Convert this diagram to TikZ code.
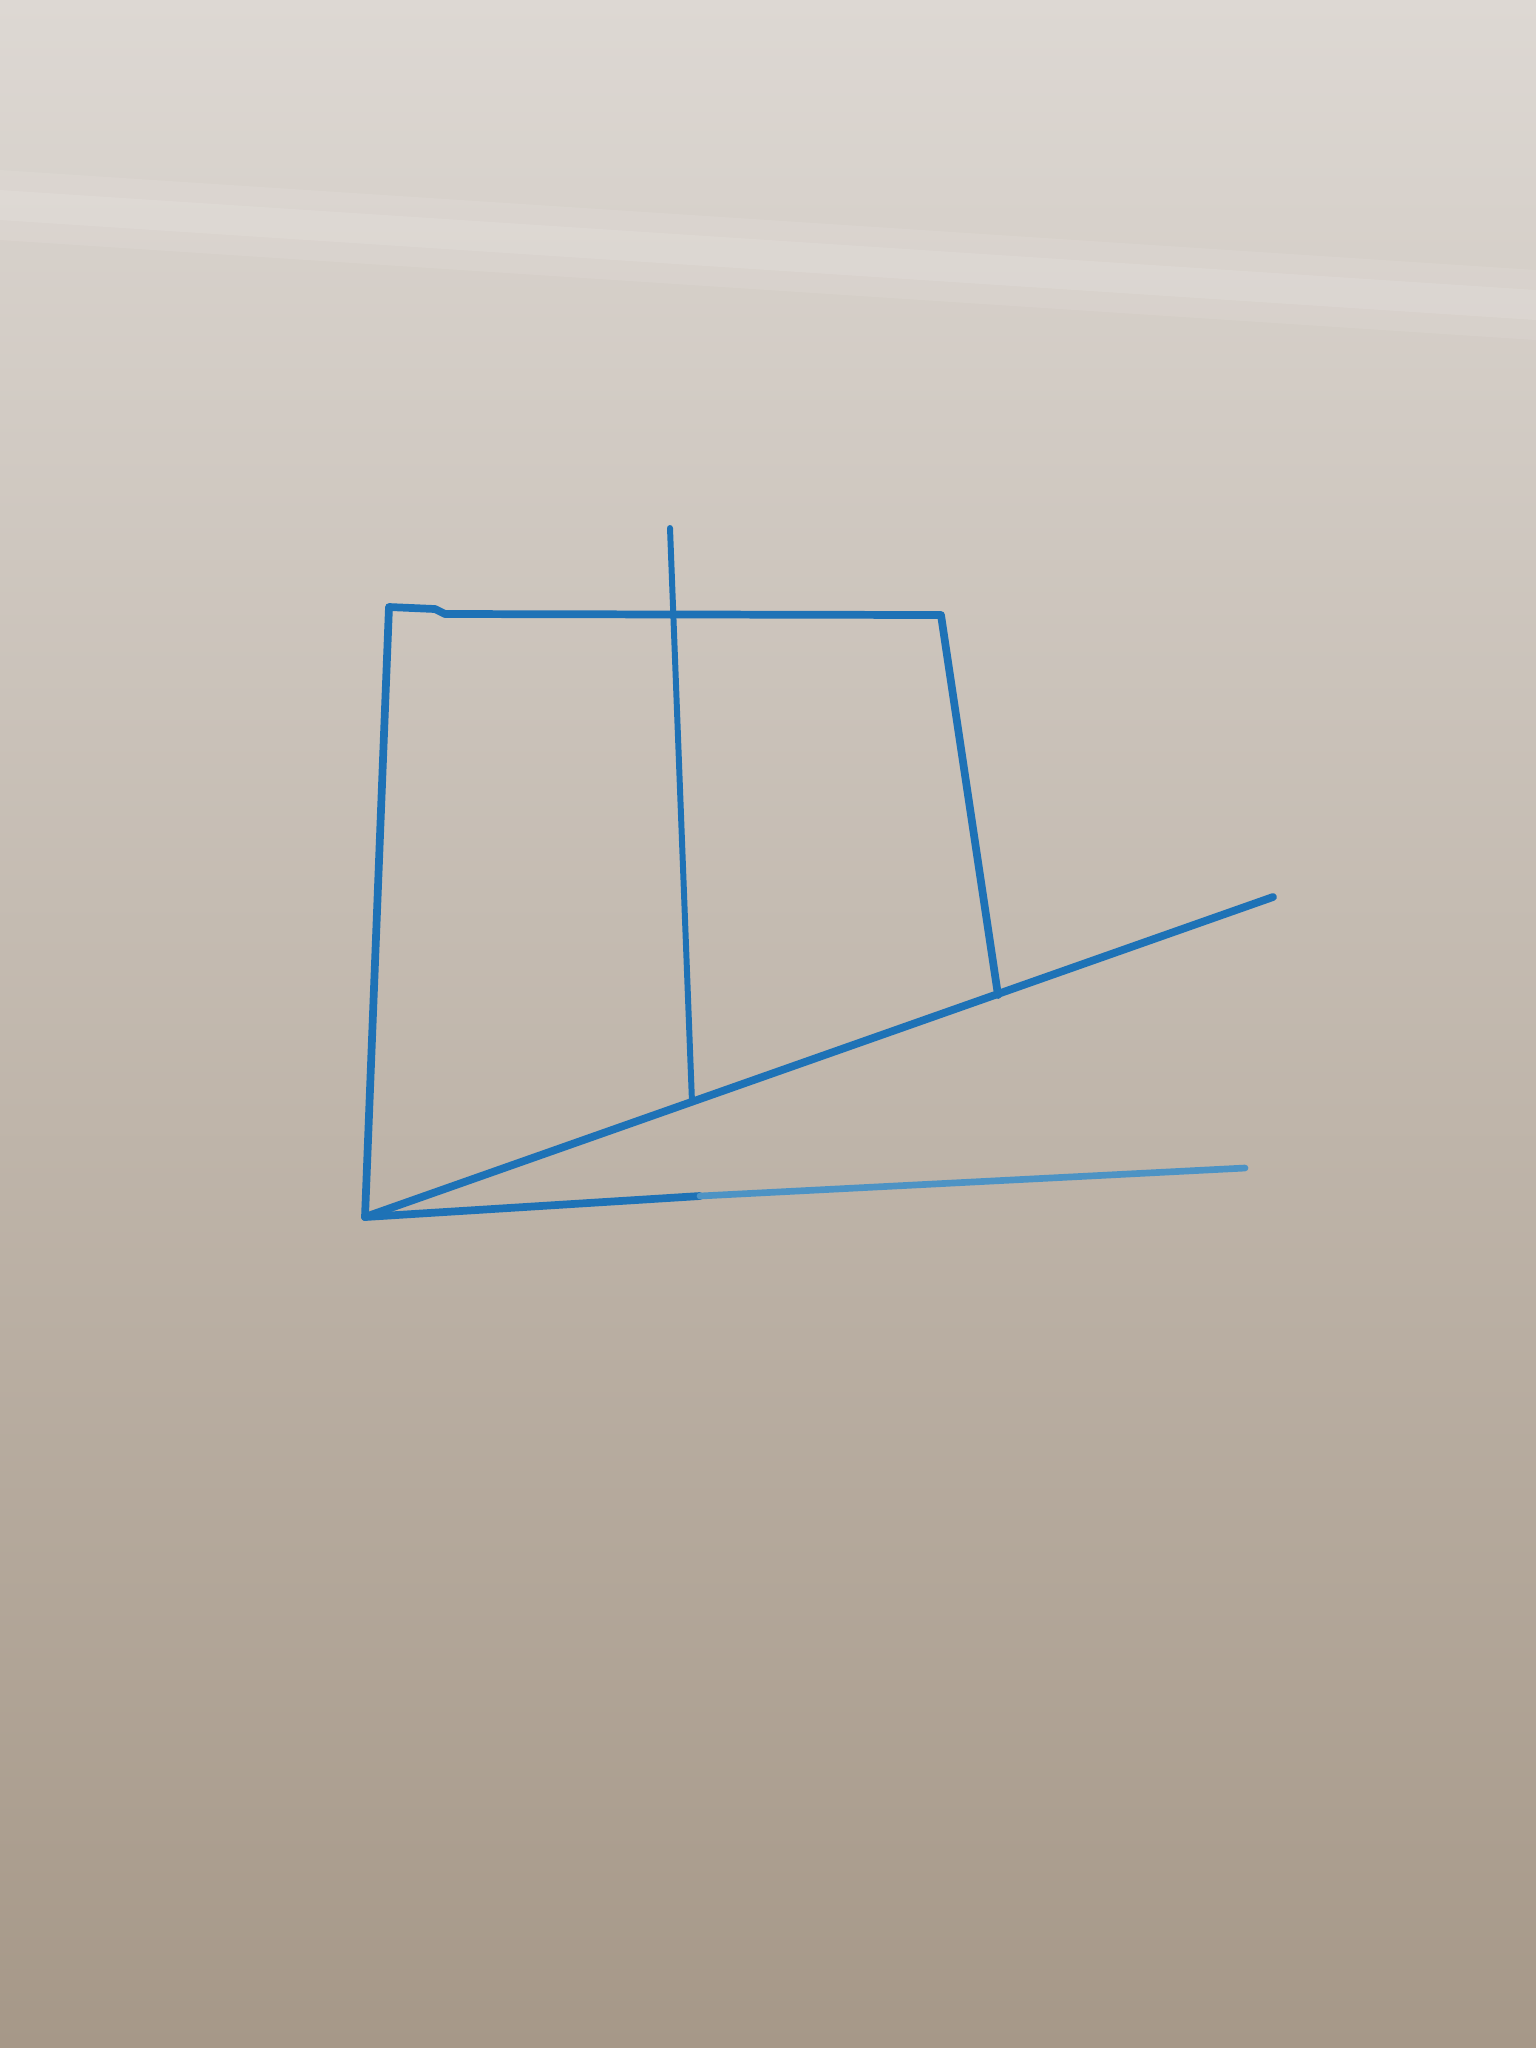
\documentclass[tikz,border=0pt]{standalone}
\usetikzlibrary{calc}
\definecolor{board}{HTML}{DDD8D3}
\definecolor{boardmid}{HTML}{C9C1B7}
\definecolor{boardlow}{HTML}{A69888}
\definecolor{marker}{HTML}{1E72B6}
\definecolor{markerfade}{HTML}{4D93C4}
\tikzset{pen/.style={line width=2.2pt,marker,line cap=round,line join=round}}
\begin{document}
\begin{tikzpicture}
	
	\shade[top color=board,middle color=boardmid,bottom color=boardlow](0,0) rectangle (15.36,-20.48);
	\useasboundingbox (0,0) rectangle (15.36,-20.48);
	\fill[white,opacity=0.08](0,-1.7)--(15.36,-2.7)--(15.36,-3.4)--(0,-2.4)--cycle;
	\fill[white,opacity=0.10](0,-1.9)--(15.36,-2.9)--(15.36,-3.2)--(0,-2.2)--cycle;
	
	\coordinate (TL) at (3.89,-6.07);
	\coordinate (TR) at (9.41,-6.15);
	\coordinate (BL) at (3.65,-12.17);
	\coordinate (MT) at (6.70,-5.28);
	\coordinate (MB) at (6.92,-11.02);
	\coordinate (RB) at (9.98,-9.95);
	\coordinate (DE) at (12.73,-8.97);
	\coordinate (HE) at (12.45,-11.68);
	\coordinate (HM) at (7.00,-11.96);
	
	\draw[pen](BL)--(TL)--(4.35,-6.09)--(4.45,-6.14)--(TR)--(RB);
	\draw[pen,line width=1.7pt](MT)--(MB);
	\draw[pen](BL)--(DE);
	\draw[pen](BL)--(HM);
	\draw[pen,markerfade,line width=1.9pt](HM)--(HE);
	
\end{tikzpicture}
\end{document}
